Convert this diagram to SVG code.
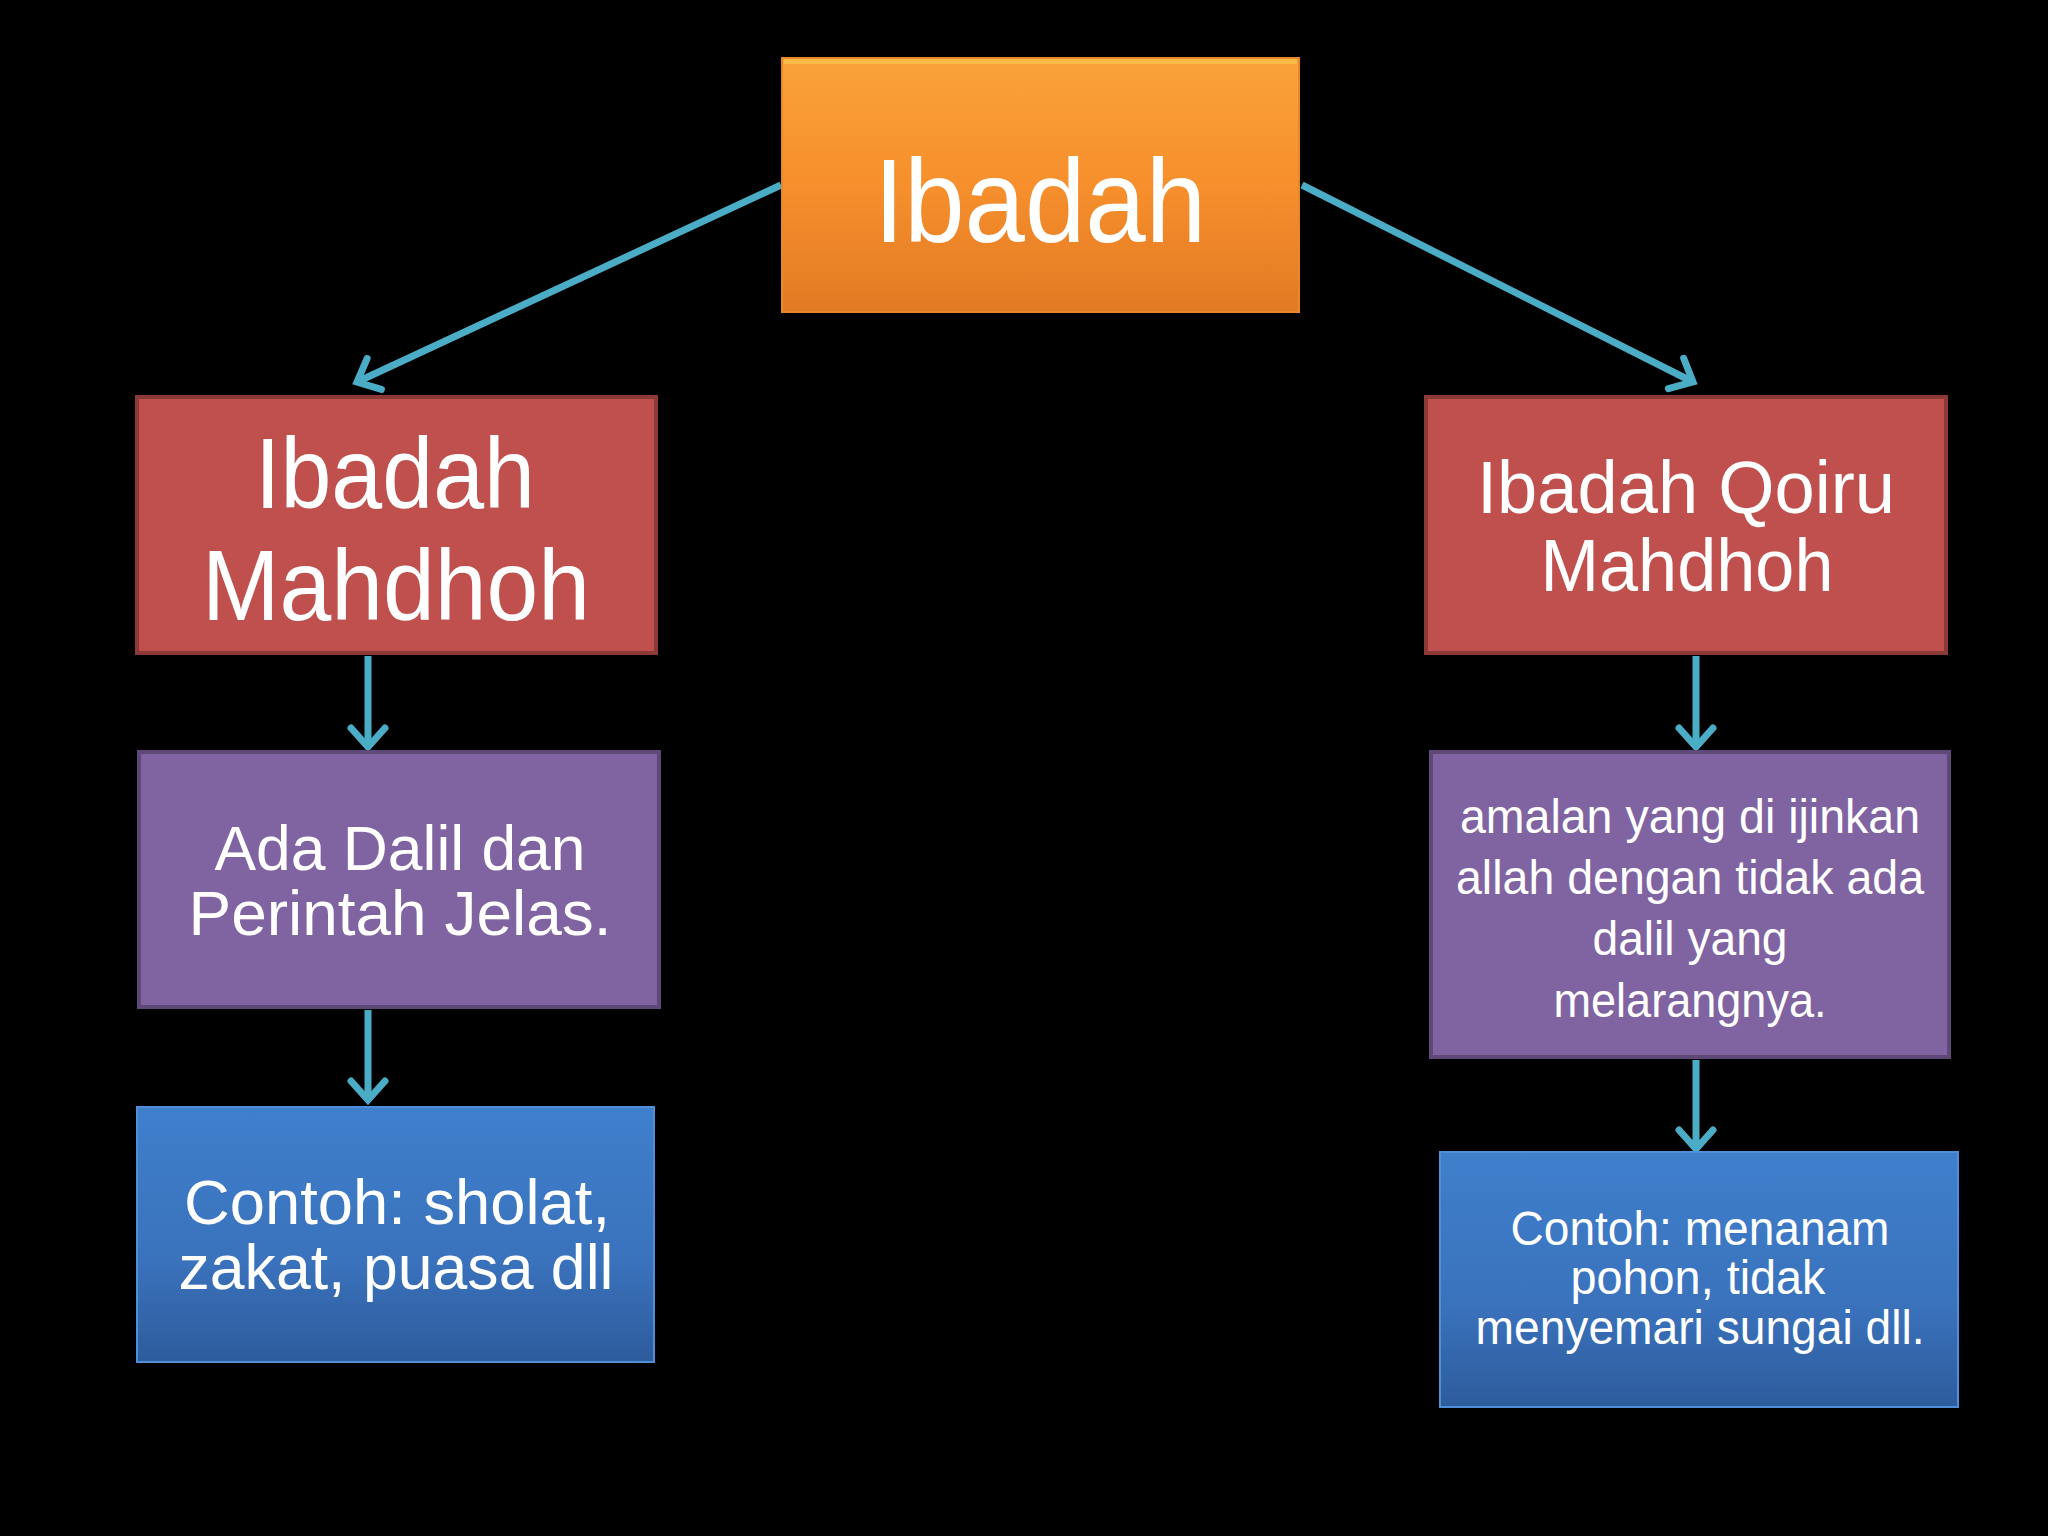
<svg xmlns="http://www.w3.org/2000/svg" width="2048" height="1536" viewBox="0 0 2048 1536">
<defs>
<linearGradient id="gOrange" x1="0" y1="0" x2="0" y2="1">
<stop offset="0" stop-color="#FBA33B"/>
<stop offset="0.5" stop-color="#F68F2C"/>
<stop offset="1" stop-color="#E27A24"/>
</linearGradient>
<linearGradient id="gBlue" x1="0" y1="0" x2="0" y2="1">
<stop offset="0" stop-color="#3F7FCC"/>
<stop offset="0.6" stop-color="#3A72BC"/>
<stop offset="1" stop-color="#2D5C9C"/>
</linearGradient>
<marker id="chev" viewBox="-24 -22 30 44" markerWidth="30" markerHeight="44" refX="0" refY="0" orient="auto" markerUnits="userSpaceOnUse">
<path d="M-19,-17 L0,0 L-19,17" fill="none" stroke="#4BACC6" stroke-width="7" stroke-linecap="round" stroke-linejoin="miter"/>
</marker>
</defs>
<style>
text{fill:#FFFFFF;font-family:"Liberation Sans","Noto Sans",Arial,sans-serif;text-anchor:middle}
.red{fill:#C0504D;stroke:#8C3A38;stroke-width:4}
.purple{fill:#8064A2;stroke:#5D4878;stroke-width:4}
.blue{fill:url(#gBlue);stroke:#4F8FDA;stroke-width:2}
.conn{stroke:#4BACC6;stroke-width:7;fill:none;marker-end:url(#chev)}
</style>
<rect x="0" y="0" width="2048" height="1536" fill="#000000"/>
<g id="connectors">
<line class="conn" x1="781" y1="185" x2="357" y2="382"/>
<line class="conn" x1="1302" y1="185" x2="1693" y2="382"/>
<line class="conn" x1="368" y1="656" x2="368" y2="747"/>
<line class="conn" x1="368" y1="1010" x2="368" y2="1100"/>
<line class="conn" x1="1696" y1="656" x2="1696" y2="747"/>
<line class="conn" x1="1696" y1="1060" x2="1696" y2="1149"/>
</g>
<g id="node-ibadah">
<rect x="782" y="58" width="517" height="254" fill="url(#gOrange)" stroke="#E8882C" stroke-width="2"/>
<rect x="784" y="59" width="513" height="5" fill="#F9C04A" opacity="0.8"/>
<text x="1040" y="242" font-size="118" textLength="332" lengthAdjust="spacingAndGlyphs">Ibadah</text>
</g>
<g id="node-mahdhoh">
<rect class="red" x="137" y="397" width="519" height="256"/>
<text x="395" y="508" font-size="100" textLength="280" lengthAdjust="spacingAndGlyphs">Ibadah</text>
<text x="396" y="620" font-size="100" textLength="388" lengthAdjust="spacingAndGlyphs">Mahdhoh</text>
</g>
<g id="node-qoiru">
<rect class="red" x="1426" y="397" width="520" height="256"/>
<text x="1686" y="513" font-size="75" textLength="418" lengthAdjust="spacingAndGlyphs">Ibadah Qoiru</text>
<text x="1687" y="591" font-size="75" textLength="293" lengthAdjust="spacingAndGlyphs">Mahdhoh</text>
</g>
<g id="node-dalil">
<rect class="purple" x="139" y="752" width="520" height="255"/>
<text x="400" y="870" font-size="63" textLength="371" lengthAdjust="spacingAndGlyphs">Ada Dalil dan</text>
<text x="400" y="935" font-size="63" textLength="423" lengthAdjust="spacingAndGlyphs">Perintah Jelas.</text>
</g>
<g id="node-amalan">
<rect class="purple" x="1431" y="752" width="518" height="305"/>
<text x="1690" y="833" font-size="48" textLength="460" lengthAdjust="spacingAndGlyphs">amalan yang di ijinkan</text>
<text x="1690" y="894" font-size="48" textLength="468" lengthAdjust="spacingAndGlyphs">allah dengan tidak ada</text>
<text x="1690" y="955" font-size="48" textLength="195" lengthAdjust="spacingAndGlyphs">dalil yang</text>
<text x="1690" y="1017" font-size="48" textLength="273" lengthAdjust="spacingAndGlyphs">melarangnya.</text>
</g>
<g id="node-contoh-mahdhoh">
<rect class="blue" x="137" y="1107" width="517" height="255"/>
<text x="397" y="1224" font-size="63" textLength="426" lengthAdjust="spacingAndGlyphs">Contoh: sholat,</text>
<text x="396" y="1289" font-size="63" textLength="435" lengthAdjust="spacingAndGlyphs">zakat, puasa dll</text>
</g>
<g id="node-contoh-qoiru">
<rect class="blue" x="1440" y="1152" width="518" height="255"/>
<text x="1700" y="1245" font-size="48" textLength="379" lengthAdjust="spacingAndGlyphs">Contoh: menanam</text>
<text x="1698" y="1294" font-size="48" textLength="255" lengthAdjust="spacingAndGlyphs">pohon, tidak</text>
<text x="1700" y="1344" font-size="48" textLength="449" lengthAdjust="spacingAndGlyphs">menyemari sungai dll.</text>
</g>
</svg>
